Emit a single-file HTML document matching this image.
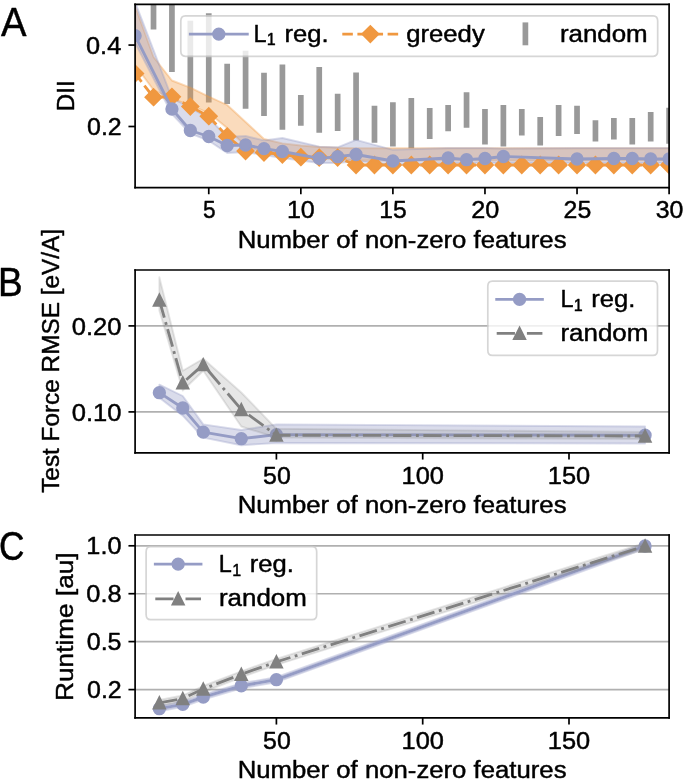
<!DOCTYPE html>
<html><head><meta charset="utf-8"><title>figure</title>
<style>
html,body{margin:0;padding:0;background:#fff;width:685px;height:783px;overflow:hidden}
svg{display:block;font-family:"Liberation Sans", sans-serif;will-change:transform}
</style></head><body>
<svg width="685" height="783" viewBox="0 0 685 783">
<defs>
<style type="text/css">*{stroke-linejoin: round; stroke-linecap: butt}</style>
</defs>
<g id="figure_1">
<g id="patch_1">
<path d="M 0 783 
L 685 783 
L 685 0 
L 0 0 
z
" style="fill: #ffffff"/>
</g>
<g id="axes_1">
<g id="line2d_1">
<path d="M 153.514 -1 
L 153.514 29.5 
" clip-path="url(#p956aea2b55)" style="fill: none; stroke: #999999; stroke-width: 5.7"/>
</g>
<g id="line2d_2">
<path d="M 171.928 -1 
L 171.928 72.1 
" clip-path="url(#p956aea2b55)" style="fill: none; stroke: #999999; stroke-width: 5.7"/>
</g>
<g id="line2d_3">
<path d="M 190.342 20.8 
L 190.342 101.2 
" clip-path="url(#p956aea2b55)" style="fill: none; stroke: #999999; stroke-width: 5.7"/>
</g>
<g id="line2d_4">
<path d="M 208.756 13.3 
L 208.756 102.4 
" clip-path="url(#p956aea2b55)" style="fill: none; stroke: #999999; stroke-width: 5.7"/>
</g>
<g id="line2d_5">
<path d="M 227.17 63.8 
L 227.17 104 
" clip-path="url(#p956aea2b55)" style="fill: none; stroke: #999999; stroke-width: 5.7"/>
</g>
<g id="line2d_6">
<path d="M 245.584 50.8 
L 245.584 108.7 
" clip-path="url(#p956aea2b55)" style="fill: none; stroke: #999999; stroke-width: 5.7"/>
</g>
<g id="line2d_7">
<path d="M 263.998 72.7 
L 263.998 116 
" clip-path="url(#p956aea2b55)" style="fill: none; stroke: #999999; stroke-width: 5.7"/>
</g>
<g id="line2d_8">
<path d="M 282.412 64.6 
L 282.412 129.8 
" clip-path="url(#p956aea2b55)" style="fill: none; stroke: #999999; stroke-width: 5.7"/>
</g>
<g id="line2d_9">
<path d="M 300.826 94.9 
L 300.826 125.7 
" clip-path="url(#p956aea2b55)" style="fill: none; stroke: #999999; stroke-width: 5.7"/>
</g>
<g id="line2d_10">
<path d="M 319.24 66.9 
L 319.24 132.7 
" clip-path="url(#p956aea2b55)" style="fill: none; stroke: #999999; stroke-width: 5.7"/>
</g>
<g id="line2d_11">
<path d="M 337.654 93.8 
L 337.654 131 
" clip-path="url(#p956aea2b55)" style="fill: none; stroke: #999999; stroke-width: 5.7"/>
</g>
<g id="line2d_12">
<path d="M 356.068 72.5 
L 356.068 140.4 
" clip-path="url(#p956aea2b55)" style="fill: none; stroke: #999999; stroke-width: 5.7"/>
</g>
<g id="line2d_13">
<path d="M 374.482 105.8 
L 374.482 142.7 
" clip-path="url(#p956aea2b55)" style="fill: none; stroke: #999999; stroke-width: 5.7"/>
</g>
<g id="line2d_14">
<path d="M 392.896 102.2 
L 392.896 146.5 
" clip-path="url(#p956aea2b55)" style="fill: none; stroke: #999999; stroke-width: 5.7"/>
</g>
<g id="line2d_15">
<path d="M 411.31 98 
L 411.31 148.2 
" clip-path="url(#p956aea2b55)" style="fill: none; stroke: #999999; stroke-width: 5.7"/>
</g>
<g id="line2d_16">
<path d="M 429.724 108 
L 429.724 139 
" clip-path="url(#p956aea2b55)" style="fill: none; stroke: #999999; stroke-width: 5.7"/>
</g>
<g id="line2d_17">
<path d="M 448.138 104.9 
L 448.138 131.3 
" clip-path="url(#p956aea2b55)" style="fill: none; stroke: #999999; stroke-width: 5.7"/>
</g>
<g id="line2d_18">
<path d="M 466.552 92.2 
L 466.552 127.7 
" clip-path="url(#p956aea2b55)" style="fill: none; stroke: #999999; stroke-width: 5.7"/>
</g>
<g id="line2d_19">
<path d="M 484.966 109.1 
L 484.966 144.6 
" clip-path="url(#p956aea2b55)" style="fill: none; stroke: #999999; stroke-width: 5.7"/>
</g>
<g id="line2d_20">
<path d="M 503.38 105 
L 503.38 146.6 
" clip-path="url(#p956aea2b55)" style="fill: none; stroke: #999999; stroke-width: 5.7"/>
</g>
<g id="line2d_21">
<path d="M 521.794 109.1 
L 521.794 135.5 
" clip-path="url(#p956aea2b55)" style="fill: none; stroke: #999999; stroke-width: 5.7"/>
</g>
<g id="line2d_22">
<path d="M 540.208 116.9 
L 540.208 145.5 
" clip-path="url(#p956aea2b55)" style="fill: none; stroke: #999999; stroke-width: 5.7"/>
</g>
<g id="line2d_23">
<path d="M 558.622 105 
L 558.622 136 
" clip-path="url(#p956aea2b55)" style="fill: none; stroke: #999999; stroke-width: 5.7"/>
</g>
<g id="line2d_24">
<path d="M 577.036 105.8 
L 577.036 134.1 
" clip-path="url(#p956aea2b55)" style="fill: none; stroke: #999999; stroke-width: 5.7"/>
</g>
<g id="line2d_25">
<path d="M 595.45 120.2 
L 595.45 141.6 
" clip-path="url(#p956aea2b55)" style="fill: none; stroke: #999999; stroke-width: 5.7"/>
</g>
<g id="line2d_26">
<path d="M 613.864 118 
L 613.864 139.6 
" clip-path="url(#p956aea2b55)" style="fill: none; stroke: #999999; stroke-width: 5.7"/>
</g>
<g id="line2d_27">
<path d="M 632.278 118 
L 632.278 144.4 
" clip-path="url(#p956aea2b55)" style="fill: none; stroke: #999999; stroke-width: 5.7"/>
</g>
<g id="line2d_28">
<path d="M 650.692 111.9 
L 650.692 141.6 
" clip-path="url(#p956aea2b55)" style="fill: none; stroke: #999999; stroke-width: 5.7"/>
</g>
<g id="line2d_29">
<path d="M 669.106 107.7 
L 669.106 143.8 
" clip-path="url(#p956aea2b55)" style="fill: none; stroke: #999999; stroke-width: 5.7"/>
</g>
<g id="matplotlib.axis_1"/>
<g id="matplotlib.axis_2"/>
<g id="FillBetweenPolyCollection_1">
<defs>
<path id="m043b8303b5" d="M 135.1 -718 
L 135.1 -777 
L 153.514 -726 
L 171.928 -702.5 
L 190.342 -695.3 
L 208.756 -686.4 
L 227.17 -678 
L 245.584 -661 
L 263.998 -644 
L 282.412 -639.6 
L 300.826 -637.5 
L 319.24 -636 
L 337.654 -635.2 
L 356.068 -634.7 
L 374.482 -634.7 
L 392.896 -634.7 
L 411.31 -634.7 
L 429.724 -634.7 
L 448.138 -634.7 
L 466.552 -634.7 
L 484.966 -634.7 
L 503.38 -634.7 
L 521.794 -634.7 
L 540.208 -634.7 
L 558.622 -634.7 
L 577.036 -634.7 
L 595.45 -634.7 
L 613.864 -634.7 
L 632.278 -634.7 
L 650.692 -634.7 
L 669.106 -634.7 
L 669.106 -622.5 
L 669.106 -622.5 
L 650.692 -622.5 
L 632.278 -622.5 
L 613.864 -622.5 
L 595.45 -622.5 
L 577.036 -622.5 
L 558.622 -622.5 
L 540.208 -622.5 
L 521.794 -622.5 
L 503.38 -622.5 
L 484.966 -622.5 
L 466.552 -622.5 
L 448.138 -622.5 
L 429.724 -622.5 
L 411.31 -622.5 
L 392.896 -622.5 
L 374.482 -622.5 
L 356.068 -622.5 
L 337.654 -624 
L 319.24 -624.5 
L 300.826 -626 
L 282.412 -628 
L 263.998 -631 
L 245.584 -637 
L 227.17 -655 
L 208.756 -670 
L 190.342 -678 
L 171.928 -684 
L 153.514 -693 
L 135.1 -718 
z
" style="stroke: #f09840; stroke-opacity: 0.35; stroke-width: 1.9"/>
</defs>
<g clip-path="url(#p956aea2b55)">
<use href="#m043b8303b5" x="0" y="783" style="fill: #f09840; fill-opacity: 0.35; stroke: #f09840; stroke-opacity: 0.35; stroke-width: 1.9"/>
</g>
</g>
<g id="FillBetweenPolyCollection_2">
<defs>
<path id="m9c1d3ab3d8" d="M 135.1 -740 
L 135.1 -781 
L 171.928 -685 
L 190.342 -675 
L 208.756 -665 
L 227.17 -646 
L 245.584 -647 
L 263.998 -642.6 
L 282.412 -645 
L 319.24 -636.4 
L 337.654 -635.7 
L 356.068 -643.1 
L 392.896 -633.2 
L 448.138 -635 
L 466.552 -635 
L 484.966 -635 
L 503.38 -634.4 
L 577.036 -635 
L 613.864 -635 
L 632.278 -635 
L 650.692 -635 
L 669.106 -635 
L 669.106 -620 
L 669.106 -620 
L 650.692 -620 
L 632.278 -620 
L 613.864 -620 
L 577.036 -620 
L 503.38 -620 
L 484.966 -620 
L 466.552 -620 
L 448.138 -620 
L 392.896 -618 
L 356.068 -622 
L 337.654 -620 
L 319.24 -620 
L 282.412 -625 
L 263.998 -628 
L 245.584 -631 
L 227.17 -630 
L 208.756 -642.3 
L 190.342 -649.4 
L 171.928 -669 
L 135.1 -740 
z
" style="stroke: #959cc5; stroke-opacity: 0.35; stroke-width: 1.9"/>
</defs>
<g clip-path="url(#p956aea2b55)">
<use href="#m9c1d3ab3d8" x="0" y="783" style="fill: #959cc5; fill-opacity: 0.35; stroke: #959cc5; stroke-opacity: 0.35; stroke-width: 1.9"/>
</g>
</g>
<g id="line2d_30">
<path d="M 135.1 73.6 
L 153.514 97.2 
L 171.928 96.8 
L 190.342 106.6 
L 208.756 116.2 
L 227.17 136.4 
L 245.584 151 
L 263.998 152.5 
L 282.412 154.5 
L 300.826 157.2 
L 319.24 157.6 
L 337.654 157.6 
L 356.068 165 
L 374.482 165 
L 392.896 165 
L 411.31 165 
L 429.724 165 
L 448.138 165 
L 466.552 165 
L 484.966 165 
L 503.38 165 
L 521.794 165 
L 540.208 165 
L 558.622 165 
L 577.036 165 
L 595.45 165 
L 613.864 165 
L 632.278 165 
L 650.692 165 
L 669.106 165 
" clip-path="url(#p956aea2b55)" style="fill: none; stroke-dasharray: 10.545,4.56; stroke-dashoffset: 0; stroke: #f09840; stroke-width: 2.85"/>
<defs>
<path id="m81dc2b258a" d="M -0 8.061017 
L 8.061017 0 
L 0 -8.061017 
L -8.061017 -0 
z
" style="stroke: #f09840; stroke-width: 1.9; stroke-linejoin: miter"/>
</defs>
<g clip-path="url(#p956aea2b55)">
<use href="#m81dc2b258a" x="135.1" y="73.6" style="fill: #f09840; stroke: #f09840; stroke-width: 1.9; stroke-linejoin: miter"/>
<use href="#m81dc2b258a" x="153.514" y="97.2" style="fill: #f09840; stroke: #f09840; stroke-width: 1.9; stroke-linejoin: miter"/>
<use href="#m81dc2b258a" x="171.928" y="96.8" style="fill: #f09840; stroke: #f09840; stroke-width: 1.9; stroke-linejoin: miter"/>
<use href="#m81dc2b258a" x="190.342" y="106.6" style="fill: #f09840; stroke: #f09840; stroke-width: 1.9; stroke-linejoin: miter"/>
<use href="#m81dc2b258a" x="208.756" y="116.2" style="fill: #f09840; stroke: #f09840; stroke-width: 1.9; stroke-linejoin: miter"/>
<use href="#m81dc2b258a" x="227.17" y="136.4" style="fill: #f09840; stroke: #f09840; stroke-width: 1.9; stroke-linejoin: miter"/>
<use href="#m81dc2b258a" x="245.584" y="151" style="fill: #f09840; stroke: #f09840; stroke-width: 1.9; stroke-linejoin: miter"/>
<use href="#m81dc2b258a" x="263.998" y="152.5" style="fill: #f09840; stroke: #f09840; stroke-width: 1.9; stroke-linejoin: miter"/>
<use href="#m81dc2b258a" x="282.412" y="154.5" style="fill: #f09840; stroke: #f09840; stroke-width: 1.9; stroke-linejoin: miter"/>
<use href="#m81dc2b258a" x="300.826" y="157.2" style="fill: #f09840; stroke: #f09840; stroke-width: 1.9; stroke-linejoin: miter"/>
<use href="#m81dc2b258a" x="319.24" y="157.6" style="fill: #f09840; stroke: #f09840; stroke-width: 1.9; stroke-linejoin: miter"/>
<use href="#m81dc2b258a" x="337.654" y="157.6" style="fill: #f09840; stroke: #f09840; stroke-width: 1.9; stroke-linejoin: miter"/>
<use href="#m81dc2b258a" x="356.068" y="165" style="fill: #f09840; stroke: #f09840; stroke-width: 1.9; stroke-linejoin: miter"/>
<use href="#m81dc2b258a" x="374.482" y="165" style="fill: #f09840; stroke: #f09840; stroke-width: 1.9; stroke-linejoin: miter"/>
<use href="#m81dc2b258a" x="392.896" y="165" style="fill: #f09840; stroke: #f09840; stroke-width: 1.9; stroke-linejoin: miter"/>
<use href="#m81dc2b258a" x="411.31" y="165" style="fill: #f09840; stroke: #f09840; stroke-width: 1.9; stroke-linejoin: miter"/>
<use href="#m81dc2b258a" x="429.724" y="165" style="fill: #f09840; stroke: #f09840; stroke-width: 1.9; stroke-linejoin: miter"/>
<use href="#m81dc2b258a" x="448.138" y="165" style="fill: #f09840; stroke: #f09840; stroke-width: 1.9; stroke-linejoin: miter"/>
<use href="#m81dc2b258a" x="466.552" y="165" style="fill: #f09840; stroke: #f09840; stroke-width: 1.9; stroke-linejoin: miter"/>
<use href="#m81dc2b258a" x="484.966" y="165" style="fill: #f09840; stroke: #f09840; stroke-width: 1.9; stroke-linejoin: miter"/>
<use href="#m81dc2b258a" x="503.38" y="165" style="fill: #f09840; stroke: #f09840; stroke-width: 1.9; stroke-linejoin: miter"/>
<use href="#m81dc2b258a" x="521.794" y="165" style="fill: #f09840; stroke: #f09840; stroke-width: 1.9; stroke-linejoin: miter"/>
<use href="#m81dc2b258a" x="540.208" y="165" style="fill: #f09840; stroke: #f09840; stroke-width: 1.9; stroke-linejoin: miter"/>
<use href="#m81dc2b258a" x="558.622" y="165" style="fill: #f09840; stroke: #f09840; stroke-width: 1.9; stroke-linejoin: miter"/>
<use href="#m81dc2b258a" x="577.036" y="165" style="fill: #f09840; stroke: #f09840; stroke-width: 1.9; stroke-linejoin: miter"/>
<use href="#m81dc2b258a" x="595.45" y="165" style="fill: #f09840; stroke: #f09840; stroke-width: 1.9; stroke-linejoin: miter"/>
<use href="#m81dc2b258a" x="613.864" y="165" style="fill: #f09840; stroke: #f09840; stroke-width: 1.9; stroke-linejoin: miter"/>
<use href="#m81dc2b258a" x="632.278" y="165" style="fill: #f09840; stroke: #f09840; stroke-width: 1.9; stroke-linejoin: miter"/>
<use href="#m81dc2b258a" x="650.692" y="165" style="fill: #f09840; stroke: #f09840; stroke-width: 1.9; stroke-linejoin: miter"/>
<use href="#m81dc2b258a" x="669.106" y="165" style="fill: #f09840; stroke: #f09840; stroke-width: 1.9; stroke-linejoin: miter"/>
</g>
</g>
<g id="line2d_31">
<path d="M 135.1 35.7 
L 171.928 109 
L 190.342 130.5 
L 208.756 136.5 
L 227.17 145.5 
L 245.584 145 
L 263.998 148.6 
L 282.412 151.5 
L 319.24 158.4 
L 337.654 156.7 
L 356.068 154.5 
L 392.896 161 
L 448.138 158 
L 466.552 159.7 
L 484.966 158.5 
L 503.38 156.5 
L 577.036 159 
L 613.864 158.5 
L 632.278 158.5 
L 650.692 159 
L 669.106 159 
" clip-path="url(#p956aea2b55)" style="fill: none; stroke: #959cc5; stroke-width: 2.85; stroke-linecap: square"/>
<defs>
<path id="mdd2bf731ce" d="M 0 5.7 
C 1.511658 5.7 2.961605 5.099412 4.030509 4.030509 
C 5.099412 2.961605 5.7 1.511658 5.7 0 
C 5.7 -1.511658 5.099412 -2.961605 4.030509 -4.030509 
C 2.961605 -5.099412 1.511658 -5.7 0 -5.7 
C -1.511658 -5.7 -2.961605 -5.099412 -4.030509 -4.030509 
C -5.099412 -2.961605 -5.7 -1.511658 -5.7 0 
C -5.7 1.511658 -5.099412 2.961605 -4.030509 4.030509 
C -2.961605 5.099412 -1.511658 5.7 0 5.7 
z
" style="stroke: #959cc5; stroke-width: 1.9"/>
</defs>
<g clip-path="url(#p956aea2b55)">
<use href="#mdd2bf731ce" x="135.1" y="35.7" style="fill: #959cc5; stroke: #959cc5; stroke-width: 1.9"/>
<use href="#mdd2bf731ce" x="171.928" y="109" style="fill: #959cc5; stroke: #959cc5; stroke-width: 1.9"/>
<use href="#mdd2bf731ce" x="190.342" y="130.5" style="fill: #959cc5; stroke: #959cc5; stroke-width: 1.9"/>
<use href="#mdd2bf731ce" x="208.756" y="136.5" style="fill: #959cc5; stroke: #959cc5; stroke-width: 1.9"/>
<use href="#mdd2bf731ce" x="227.17" y="145.5" style="fill: #959cc5; stroke: #959cc5; stroke-width: 1.9"/>
<use href="#mdd2bf731ce" x="245.584" y="145" style="fill: #959cc5; stroke: #959cc5; stroke-width: 1.9"/>
<use href="#mdd2bf731ce" x="263.998" y="148.6" style="fill: #959cc5; stroke: #959cc5; stroke-width: 1.9"/>
<use href="#mdd2bf731ce" x="282.412" y="151.5" style="fill: #959cc5; stroke: #959cc5; stroke-width: 1.9"/>
<use href="#mdd2bf731ce" x="319.24" y="158.4" style="fill: #959cc5; stroke: #959cc5; stroke-width: 1.9"/>
<use href="#mdd2bf731ce" x="337.654" y="156.7" style="fill: #959cc5; stroke: #959cc5; stroke-width: 1.9"/>
<use href="#mdd2bf731ce" x="356.068" y="154.5" style="fill: #959cc5; stroke: #959cc5; stroke-width: 1.9"/>
<use href="#mdd2bf731ce" x="392.896" y="161" style="fill: #959cc5; stroke: #959cc5; stroke-width: 1.9"/>
<use href="#mdd2bf731ce" x="448.138" y="158" style="fill: #959cc5; stroke: #959cc5; stroke-width: 1.9"/>
<use href="#mdd2bf731ce" x="466.552" y="159.7" style="fill: #959cc5; stroke: #959cc5; stroke-width: 1.9"/>
<use href="#mdd2bf731ce" x="484.966" y="158.5" style="fill: #959cc5; stroke: #959cc5; stroke-width: 1.9"/>
<use href="#mdd2bf731ce" x="503.38" y="156.5" style="fill: #959cc5; stroke: #959cc5; stroke-width: 1.9"/>
<use href="#mdd2bf731ce" x="577.036" y="159" style="fill: #959cc5; stroke: #959cc5; stroke-width: 1.9"/>
<use href="#mdd2bf731ce" x="613.864" y="158.5" style="fill: #959cc5; stroke: #959cc5; stroke-width: 1.9"/>
<use href="#mdd2bf731ce" x="632.278" y="158.5" style="fill: #959cc5; stroke: #959cc5; stroke-width: 1.9"/>
<use href="#mdd2bf731ce" x="650.692" y="159" style="fill: #959cc5; stroke: #959cc5; stroke-width: 1.9"/>
<use href="#mdd2bf731ce" x="669.106" y="159" style="fill: #959cc5; stroke: #959cc5; stroke-width: 1.9"/>
</g>
</g>
<g id="patch_2">
<path d="M 135.1 187.6 
L 135.1 4.3 
" style="fill: none; stroke: #000000; stroke-width: 1.7; stroke-linejoin: miter; stroke-linecap: square"/>
</g>
<g id="patch_3">
<path d="M 669.1 187.6 
L 669.1 4.3 
" style="fill: none; stroke: #000000; stroke-width: 1.7; stroke-linejoin: miter; stroke-linecap: square"/>
</g>
<g id="patch_4">
<path d="M 135.1 187.6 
L 669.1 187.6 
" style="fill: none; stroke: #000000; stroke-width: 1.7; stroke-linejoin: miter; stroke-linecap: square"/>
</g>
<g id="patch_5">
<path d="M 135.1 4.3 
L 669.1 4.3 
" style="fill: none; stroke: #000000; stroke-width: 1.7; stroke-linejoin: miter; stroke-linecap: square"/>
</g>
</g>
<g id="axes_2">
<g id="line2d_32">
<path d="M 135.1 325.9 
L 669.1 325.9 
" clip-path="url(#p377abd28a8)" style="fill: none; stroke: #b0b0b0; stroke-width: 1.65; stroke-linecap: square"/>
</g>
<g id="line2d_33">
<path d="M 135.1 411.9 
L 669.1 411.9 
" clip-path="url(#p377abd28a8)" style="fill: none; stroke: #b0b0b0; stroke-width: 1.65; stroke-linecap: square"/>
</g>
<g id="matplotlib.axis_3"/>
<g id="matplotlib.axis_4"/>
<g id="FillBetweenPolyCollection_3">
<defs>
<path id="m3558282ac8" d="M 159.36 -385.3 
L 159.36 -398.4 
L 182.768 -387 
L 203.25 -358.6 
L 241.288 -353 
L 276.4 -358.6 
L 645.076 -356.5 
L 645.076 -339.5 
L 645.076 -339.5 
L 276.4 -340 
L 241.288 -337.8 
L 203.25 -345.4 
L 182.768 -367.3 
L 159.36 -385.3 
z
" style="stroke: #959cc5; stroke-opacity: 0.35; stroke-width: 1.9"/>
</defs>
<g clip-path="url(#p377abd28a8)">
<use href="#m3558282ac8" x="0" y="783" style="fill: #959cc5; fill-opacity: 0.35; stroke: #959cc5; stroke-opacity: 0.35; stroke-width: 1.9"/>
</g>
</g>
<g id="line2d_34">
<path d="M 159.36 392.7 
L 182.768 408 
L 203.25 432.1 
L 241.288 438.7 
L 276.4 434.6 
L 645.076 435.2 
" clip-path="url(#p377abd28a8)" style="fill: none; stroke: #959cc5; stroke-width: 2.85; stroke-linecap: square"/>
<g clip-path="url(#p377abd28a8)">
<use href="#mdd2bf731ce" x="159.36" y="392.7" style="fill: #959cc5; stroke: #959cc5; stroke-width: 1.9"/>
<use href="#mdd2bf731ce" x="182.768" y="408" style="fill: #959cc5; stroke: #959cc5; stroke-width: 1.9"/>
<use href="#mdd2bf731ce" x="203.25" y="432.1" style="fill: #959cc5; stroke: #959cc5; stroke-width: 1.9"/>
<use href="#mdd2bf731ce" x="241.288" y="438.7" style="fill: #959cc5; stroke: #959cc5; stroke-width: 1.9"/>
<use href="#mdd2bf731ce" x="276.4" y="434.6" style="fill: #959cc5; stroke: #959cc5; stroke-width: 1.9"/>
<use href="#mdd2bf731ce" x="645.076" y="435.2" style="fill: #959cc5; stroke: #959cc5; stroke-width: 1.9"/>
</g>
</g>
<g id="FillBetweenPolyCollection_4">
<defs>
<path id="m1ac68b7e30" d="M 159.36 -472.5 
L 159.36 -505.7 
L 182.768 -412.2 
L 203.25 -424.2 
L 241.288 -390.5 
L 276.4 -354.2 
L 645.076 -351 
L 645.076 -344 
L 645.076 -344 
L 276.4 -345.4 
L 241.288 -356.5 
L 203.25 -412.2 
L 182.768 -392.5 
L 159.36 -472.5 
z
" style="stroke: #808080; stroke-opacity: 0.2; stroke-width: 1.9"/>
</defs>
<g clip-path="url(#p377abd28a8)">
<use href="#m1ac68b7e30" x="0" y="783" style="fill: #808080; fill-opacity: 0.2; stroke: #808080; stroke-opacity: 0.2; stroke-width: 1.9"/>
</g>
</g>
<g id="line2d_35">
<path d="M 159.36 300.1 
L 182.768 382.8 
L 203.25 364.7 
L 241.288 409.5 
L 276.4 435.2 
L 645.076 436 
" clip-path="url(#p377abd28a8)" style="fill: none; stroke-dasharray: 18.24,4.56,2.85,4.56; stroke-dashoffset: 0; stroke: #808080; stroke-width: 2.85"/>
<defs>
<path id="m35cb665b18" d="M 0 -5.7 
L -5.7 5.7 
L 5.7 5.7 
z
" style="stroke: #808080; stroke-width: 1.9; stroke-linejoin: miter"/>
</defs>
<g clip-path="url(#p377abd28a8)">
<use href="#m35cb665b18" x="159.36" y="300.1" style="fill: #808080; stroke: #808080; stroke-width: 1.9; stroke-linejoin: miter"/>
<use href="#m35cb665b18" x="182.768" y="382.8" style="fill: #808080; stroke: #808080; stroke-width: 1.9; stroke-linejoin: miter"/>
<use href="#m35cb665b18" x="203.25" y="364.7" style="fill: #808080; stroke: #808080; stroke-width: 1.9; stroke-linejoin: miter"/>
<use href="#m35cb665b18" x="241.288" y="409.5" style="fill: #808080; stroke: #808080; stroke-width: 1.9; stroke-linejoin: miter"/>
<use href="#m35cb665b18" x="276.4" y="435.2" style="fill: #808080; stroke: #808080; stroke-width: 1.9; stroke-linejoin: miter"/>
<use href="#m35cb665b18" x="645.076" y="436" style="fill: #808080; stroke: #808080; stroke-width: 1.9; stroke-linejoin: miter"/>
</g>
</g>
<g id="patch_6">
<path d="M 135.1 452.9 
L 135.1 270 
" style="fill: none; stroke: #000000; stroke-width: 1.7; stroke-linejoin: miter; stroke-linecap: square"/>
</g>
<g id="patch_7">
<path d="M 669.1 452.9 
L 669.1 270 
" style="fill: none; stroke: #000000; stroke-width: 1.7; stroke-linejoin: miter; stroke-linecap: square"/>
</g>
<g id="patch_8">
<path d="M 135.1 452.9 
L 669.1 452.9 
" style="fill: none; stroke: #000000; stroke-width: 1.7; stroke-linejoin: miter; stroke-linecap: square"/>
</g>
<g id="patch_9">
<path d="M 135.1 270 
L 669.1 270 
" style="fill: none; stroke: #000000; stroke-width: 1.7; stroke-linejoin: miter; stroke-linecap: square"/>
</g>
</g>
<g id="axes_3">
<g id="line2d_36">
<path d="M 135.1 545.8 
L 669.1 545.8 
" clip-path="url(#p119d62ab1e)" style="fill: none; stroke: #b0b0b0; stroke-width: 1.65; stroke-linecap: square"/>
</g>
<g id="line2d_37">
<path d="M 135.1 593.7 
L 669.1 593.7 
" clip-path="url(#p119d62ab1e)" style="fill: none; stroke: #b0b0b0; stroke-width: 1.65; stroke-linecap: square"/>
</g>
<g id="line2d_38">
<path d="M 135.1 641.6 
L 669.1 641.6 
" clip-path="url(#p119d62ab1e)" style="fill: none; stroke: #b0b0b0; stroke-width: 1.65; stroke-linecap: square"/>
</g>
<g id="line2d_39">
<path d="M 135.1 689.6 
L 669.1 689.6 
" clip-path="url(#p119d62ab1e)" style="fill: none; stroke: #b0b0b0; stroke-width: 1.65; stroke-linecap: square"/>
</g>
<g id="matplotlib.axis_5"/>
<g id="matplotlib.axis_6"/>
<g id="FillBetweenPolyCollection_5">
<defs>
<path id="mb6a63f1b75" d="M 159.36 -71.8 
L 159.36 -76.8 
L 182.768 -81.2 
L 203.25 -88.4 
L 241.288 -99.7 
L 276.4 -105.8 
L 645.076 -239.5 
L 645.076 -234.5 
L 645.076 -234.5 
L 276.4 -100.8 
L 241.288 -94.7 
L 203.25 -83.4 
L 182.768 -76.2 
L 159.36 -71.8 
z
" style="stroke: #959cc5; stroke-opacity: 0.35; stroke-width: 1.9"/>
</defs>
<g clip-path="url(#p119d62ab1e)">
<use href="#mb6a63f1b75" x="0" y="783" style="fill: #959cc5; fill-opacity: 0.35; stroke: #959cc5; stroke-opacity: 0.35; stroke-width: 1.9"/>
</g>
</g>
<g id="line2d_40">
<path d="M 159.36 708.7 
L 182.768 704.3 
L 203.25 697.1 
L 241.288 685.8 
L 276.4 679.7 
L 645.076 546 
" clip-path="url(#p119d62ab1e)" style="fill: none; stroke: #959cc5; stroke-width: 2.85; stroke-linecap: square"/>
<g clip-path="url(#p119d62ab1e)">
<use href="#mdd2bf731ce" x="159.36" y="708.7" style="fill: #959cc5; stroke: #959cc5; stroke-width: 1.9"/>
<use href="#mdd2bf731ce" x="182.768" y="704.3" style="fill: #959cc5; stroke: #959cc5; stroke-width: 1.9"/>
<use href="#mdd2bf731ce" x="203.25" y="697.1" style="fill: #959cc5; stroke: #959cc5; stroke-width: 1.9"/>
<use href="#mdd2bf731ce" x="241.288" y="685.8" style="fill: #959cc5; stroke: #959cc5; stroke-width: 1.9"/>
<use href="#mdd2bf731ce" x="276.4" y="679.7" style="fill: #959cc5; stroke: #959cc5; stroke-width: 1.9"/>
<use href="#mdd2bf731ce" x="645.076" y="546" style="fill: #959cc5; stroke: #959cc5; stroke-width: 1.9"/>
</g>
</g>
<g id="FillBetweenPolyCollection_6">
<defs>
<path id="m1c9525006b" d="M 159.36 -77.1 
L 159.36 -83.1 
L 182.768 -87.5 
L 203.25 -97 
L 241.288 -111.7 
L 276.4 -124.1 
L 645.076 -240 
L 645.076 -234 
L 645.076 -234 
L 276.4 -118.1 
L 241.288 -105.7 
L 203.25 -91 
L 182.768 -81.5 
L 159.36 -77.1 
z
" style="stroke: #808080; stroke-opacity: 0.2; stroke-width: 1.9"/>
</defs>
<g clip-path="url(#p119d62ab1e)">
<use href="#m1c9525006b" x="0" y="783" style="fill: #808080; fill-opacity: 0.2; stroke: #808080; stroke-opacity: 0.2; stroke-width: 1.9"/>
</g>
</g>
<g id="line2d_41">
<path d="M 159.36 702.9 
L 182.768 698.5 
L 203.25 689 
L 241.288 674.3 
L 276.4 661.9 
L 645.076 546 
" clip-path="url(#p119d62ab1e)" style="fill: none; stroke-dasharray: 18.24,4.56,2.85,4.56; stroke-dashoffset: 0; stroke: #808080; stroke-width: 2.85"/>
<g clip-path="url(#p119d62ab1e)">
<use href="#m35cb665b18" x="159.36" y="702.9" style="fill: #808080; stroke: #808080; stroke-width: 1.9; stroke-linejoin: miter"/>
<use href="#m35cb665b18" x="182.768" y="698.5" style="fill: #808080; stroke: #808080; stroke-width: 1.9; stroke-linejoin: miter"/>
<use href="#m35cb665b18" x="203.25" y="689" style="fill: #808080; stroke: #808080; stroke-width: 1.9; stroke-linejoin: miter"/>
<use href="#m35cb665b18" x="241.288" y="674.3" style="fill: #808080; stroke: #808080; stroke-width: 1.9; stroke-linejoin: miter"/>
<use href="#m35cb665b18" x="276.4" y="661.9" style="fill: #808080; stroke: #808080; stroke-width: 1.9; stroke-linejoin: miter"/>
<use href="#m35cb665b18" x="645.076" y="546" style="fill: #808080; stroke: #808080; stroke-width: 1.9; stroke-linejoin: miter"/>
</g>
</g>
<g id="patch_10">
<path d="M 135.1 717.9 
L 135.1 535 
" style="fill: none; stroke: #000000; stroke-width: 1.7; stroke-linejoin: miter; stroke-linecap: square"/>
</g>
<g id="patch_11">
<path d="M 669.1 717.9 
L 669.1 535 
" style="fill: none; stroke: #000000; stroke-width: 1.7; stroke-linejoin: miter; stroke-linecap: square"/>
</g>
<g id="patch_12">
<path d="M 135.1 717.9 
L 669.1 717.9 
" style="fill: none; stroke: #000000; stroke-width: 1.7; stroke-linejoin: miter; stroke-linecap: square"/>
</g>
<g id="patch_13">
<path d="M 135.1 535 
L 669.1 535 
" style="fill: none; stroke: #000000; stroke-width: 1.7; stroke-linejoin: miter; stroke-linecap: square"/>
</g>
</g>
<g id="line2d_42">
<path d="M 208.756 187.6 
L 208.756 194.25 
" style="fill: none; stroke: #000000; stroke-width: 1.7"/>
</g>
<g id="line2d_43">
<path d="M 300.826 187.6 
L 300.826 194.25 
" style="fill: none; stroke: #000000; stroke-width: 1.7"/>
</g>
<g id="line2d_44">
<path d="M 392.896 187.6 
L 392.896 194.25 
" style="fill: none; stroke: #000000; stroke-width: 1.7"/>
</g>
<g id="line2d_45">
<path d="M 484.966 187.6 
L 484.966 194.25 
" style="fill: none; stroke: #000000; stroke-width: 1.7"/>
</g>
<g id="line2d_46">
<path d="M 577.036 187.6 
L 577.036 194.25 
" style="fill: none; stroke: #000000; stroke-width: 1.7"/>
</g>
<g id="line2d_47">
<path d="M 669.106 187.6 
L 669.106 194.25 
" style="fill: none; stroke: #000000; stroke-width: 1.7"/>
</g>
<g id="line2d_48">
<path d="M 135.1 45.07 
L 128.45 45.07 
" style="fill: none; stroke: #000000; stroke-width: 1.7"/>
</g>
<g id="line2d_49">
<path d="M 135.1 126.5 
L 128.45 126.5 
" style="fill: none; stroke: #000000; stroke-width: 1.7"/>
</g>
<g id="line2d_50">
<path d="M 276.4 452.9 
L 276.4 459.55 
" style="fill: none; stroke: #000000; stroke-width: 1.7"/>
</g>
<g id="line2d_51">
<path d="M 422.7 452.9 
L 422.7 459.55 
" style="fill: none; stroke: #000000; stroke-width: 1.7"/>
</g>
<g id="line2d_52">
<path d="M 569 452.9 
L 569 459.55 
" style="fill: none; stroke: #000000; stroke-width: 1.7"/>
</g>
<g id="line2d_53">
<path d="M 135.1 325.9 
L 128.45 325.9 
" style="fill: none; stroke: #000000; stroke-width: 1.7"/>
</g>
<g id="line2d_54">
<path d="M 135.1 411.9 
L 128.45 411.9 
" style="fill: none; stroke: #000000; stroke-width: 1.7"/>
</g>
<g id="line2d_55">
<path d="M 276.4 717.9 
L 276.4 724.55 
" style="fill: none; stroke: #000000; stroke-width: 1.7"/>
</g>
<g id="line2d_56">
<path d="M 422.7 717.9 
L 422.7 724.55 
" style="fill: none; stroke: #000000; stroke-width: 1.7"/>
</g>
<g id="line2d_57">
<path d="M 569 717.9 
L 569 724.55 
" style="fill: none; stroke: #000000; stroke-width: 1.7"/>
</g>
<g id="line2d_58">
<path d="M 135.1 545.8 
L 128.45 545.8 
" style="fill: none; stroke: #000000; stroke-width: 1.7"/>
</g>
<g id="line2d_59">
<path d="M 135.1 593.7 
L 128.45 593.7 
" style="fill: none; stroke: #000000; stroke-width: 1.7"/>
</g>
<g id="line2d_60">
<path d="M 135.1 641.6 
L 128.45 641.6 
" style="fill: none; stroke: #000000; stroke-width: 1.7"/>
</g>
<g id="line2d_61">
<path d="M 135.1 689.6 
L 128.45 689.6 
" style="fill: none; stroke: #000000; stroke-width: 1.7"/>
</g>
<g id="patch_14">
<path d="M 185.360045 56.3 
L 653.139955 56.3 
Q 657.7 56.3 657.7 51.087569 
L 657.7 21.012431 
Q 657.7 15.8 653.139955 15.8 
L 185.360045 15.8 
Q 180.8 15.8 180.8 21.012431 
L 180.8 51.087569 
Q 180.8 56.3 185.360045 56.3 
z
" style="fill: #ffffff; opacity: 0.8; stroke: #cccccc; stroke-width: 1.7; stroke-linejoin: miter"/>
</g>
<g id="patch_15">
<path d="M 492.360045 355.4 
L 652.939955 355.4 
Q 657.5 355.4 657.5 350.187569 
L 657.5 286.312431 
Q 657.5 281.1 652.939955 281.1 
L 492.360045 281.1 
Q 487.8 281.1 487.8 286.312431 
L 487.8 350.187569 
Q 487.8 355.4 492.360045 355.4 
z
" style="fill: #ffffff; opacity: 0.8; stroke: #cccccc; stroke-width: 1.7; stroke-linejoin: miter"/>
</g>
<g id="patch_16">
<path d="M 150.660045 619.6 
L 312.139955 619.6 
Q 316.7 619.6 316.7 614.387569 
L 316.7 551.912431 
Q 316.7 546.7 312.139955 546.7 
L 150.660045 546.7 
Q 146.1 546.7 146.1 551.912431 
L 146.1 614.387569 
Q 146.1 619.6 150.660045 619.6 
z
" style="fill: #ffffff; opacity: 0.8; stroke: #cccccc; stroke-width: 1.7; stroke-linejoin: miter"/>
</g>
<g id="line2d_62">
<path d="M 190.3 34.1 
L 247.3 34.1 
" style="fill: none; stroke: #959cc5; stroke-width: 2.85; stroke-linecap: square"/>
</g>
<g id="line2d_63">
<path d="M 342.3 34.1 
L 398.4 34.1 
" style="fill: none; stroke-dasharray: 10.545,4.56; stroke-dashoffset: 0; stroke: #f09840; stroke-width: 2.85"/>
</g>
<g id="line2d_64">
<path d="M 525.4 22.4 
L 525.4 45.3 
" style="fill: none; stroke: #999999; stroke-width: 5.7"/>
</g>
<g id="line2d_65">
<path d="M 496.7 299.4 
L 542.4 299.4 
" style="fill: none; stroke: #959cc5; stroke-width: 2.85; stroke-linecap: square"/>
</g>
<g id="line2d_66">
<path d="M 496.7 333.3 
L 542.4 333.3 
" style="fill: none; stroke-dasharray: 18.24,4.56,2.85,4.56; stroke-dashoffset: 0; stroke: #808080; stroke-width: 2.85"/>
</g>
<g id="line2d_67">
<path d="M 155.3 564.1 
L 201 564.1 
" style="fill: none; stroke: #959cc5; stroke-width: 2.85; stroke-linecap: square"/>
</g>
<g id="line2d_68">
<path d="M 155.3 598.8 
L 201 598.8 
" style="fill: none; stroke-dasharray: 18.24,4.56,2.85,4.56; stroke-dashoffset: 0; stroke: #808080; stroke-width: 2.85"/>
</g>
<g id="line2d_69">
<g>
<use href="#mdd2bf731ce" x="218.8" y="34.1" style="fill: #959cc5; stroke: #959cc5; stroke-width: 1.9"/>
</g>
</g>
<g id="line2d_70">
<g>
<use href="#m81dc2b258a" x="370.35" y="34.1" style="fill: #f09840; stroke: #f09840; stroke-width: 1.9; stroke-linejoin: miter"/>
</g>
</g>
<g id="line2d_71">
<g>
<use href="#mdd2bf731ce" x="519.55" y="299.4" style="fill: #959cc5; stroke: #959cc5; stroke-width: 1.9"/>
</g>
</g>
<g id="line2d_72">
<g>
<use href="#m35cb665b18" x="519.55" y="333.3" style="fill: #808080; stroke: #808080; stroke-width: 1.9; stroke-linejoin: miter"/>
</g>
</g>
<g id="line2d_73">
<g>
<use href="#mdd2bf731ce" x="178.15" y="564.1" style="fill: #959cc5; stroke: #959cc5; stroke-width: 1.9"/>
</g>
</g>
<g id="line2d_74">
<g>
<use href="#m35cb665b18" x="178.15" y="598.8" style="fill: #808080; stroke: #808080; stroke-width: 1.9; stroke-linejoin: miter"/>
</g>
</g>
</g>
<defs>
<clipPath id="p956aea2b55">
<rect x="135.1" y="4.3" width="534" height="183.3"/>
</clipPath>
<clipPath id="p377abd28a8">
<rect x="135.1" y="270" width="534" height="182.9"/>
</clipPath>
<clipPath id="p119d62ab1e">
<rect x="135.1" y="535" width="534" height="182.9"/>
</clipPath>
</defs>
<g font-family="Liberation Sans, sans-serif" fill="#000" stroke="#000" stroke-width="0.45">
<text transform="translate(0.92 35.70) scale(0.9605 1)" font-size="39.86">A</text>
<text transform="translate(-1.98 295.60) scale(0.9264 1)" font-size="39.86">B</text>
<text transform="translate(-0.89 559.90) scale(0.8851 1)" font-size="39.86">C</text>
<text transform="translate(86.03 53.73) scale(1.0590 1)" font-size="23.92">0.4</text>
<text transform="translate(87.05 135.16) scale(1.0437 1)" font-size="23.92">0.2</text>
<text transform="translate(202.97 218.20) scale(0.9483 1)" font-size="23.92">5</text>
<text transform="translate(286.92 218.20) scale(1.0482 1)" font-size="23.92">10</text>
<text transform="translate(379.26 218.20) scale(1.0311 1)" font-size="23.92">15</text>
<text transform="translate(471.28 218.20) scale(1.0557 1)" font-size="23.92">20</text>
<text transform="translate(563.61 218.20) scale(1.0391 1)" font-size="23.92">25</text>
<text transform="translate(655.78 218.20) scale(1.0406 1)" font-size="23.92">30</text>
<text transform="translate(237.68 247.80) scale(1.0762 1)" font-size="23.92">Number of non-zero features</text>
<text transform="translate(73.80 95.90) rotate(-90) scale(1.0051 1) translate(-15.16 0)" font-size="23.92">DII</text>
<text transform="translate(253.58 41.50) scale(0.9807 1)" font-size="23.92">L</text>
<text transform="translate(266.67 44.90) scale(0.9599 1)" font-size="16.74">1</text>
<text transform="translate(284.60 41.50) scale(1.0704 1)" font-size="23.92">reg.</text>
<text transform="translate(406.22 41.50) scale(1.0741 1)" font-size="23.92">greedy</text>
<text transform="translate(559.88 41.50) scale(1.0833 1)" font-size="23.92">random</text>
<text transform="translate(71.75 334.56) scale(1.0687 1)" font-size="23.92">0.20</text>
<text transform="translate(71.75 420.56) scale(1.0687 1)" font-size="23.92">0.10</text>
<text transform="translate(263.03 483.50) scale(1.0416 1)" font-size="23.92">50</text>
<text transform="translate(401.51 483.50) scale(1.0634 1)" font-size="23.92">100</text>
<text transform="translate(547.81 483.50) scale(1.0634 1)" font-size="23.92">150</text>
<text transform="translate(237.68 513.10) scale(1.0762 1)" font-size="23.92">Number of non-zero features</text>
<text transform="translate(58.60 361.50) rotate(-90) scale(1.0178 1) translate(-129.00 0)" font-size="23.92">Test Force RMSE [eV/A]</text>
<text transform="translate(560.38 307.10) scale(0.9807 1)" font-size="23.92">L</text>
<text transform="translate(573.67 310.50) scale(0.9599 1)" font-size="16.74">1</text>
<text transform="translate(591.30 307.10) scale(1.0704 1)" font-size="23.92">reg.</text>
<text transform="translate(560.48 341.40) scale(1.0833 1)" font-size="23.92">random</text>
<text transform="translate(86.33 554.46) scale(1.0575 1)" font-size="23.92">1.0</text>
<text transform="translate(86.31 602.36) scale(1.0615 1)" font-size="23.92">0.8</text>
<text transform="translate(86.76 650.26) scale(1.0464 1)" font-size="23.92">0.5</text>
<text transform="translate(87.05 698.26) scale(1.0437 1)" font-size="23.92">0.2</text>
<text transform="translate(263.03 748.60) scale(1.0416 1)" font-size="23.92">50</text>
<text transform="translate(401.51 748.60) scale(1.0634 1)" font-size="23.92">100</text>
<text transform="translate(547.81 748.60) scale(1.0634 1)" font-size="23.92">150</text>
<text transform="translate(237.68 778.20) scale(1.0762 1)" font-size="23.92">Number of non-zero features</text>
<text transform="translate(72.80 626.50) rotate(-90) scale(1.0952 1) translate(-67.93 0)" font-size="23.92">Runtime [au]</text>
<text transform="translate(218.68 572.10) scale(0.9807 1)" font-size="23.92">L</text>
<text transform="translate(232.37 575.50) scale(0.9599 1)" font-size="16.74">1</text>
<text transform="translate(249.80 572.10) scale(1.0704 1)" font-size="23.92">reg.</text>
<text transform="translate(218.98 606.40) scale(1.0833 1)" font-size="23.92">random</text>
</g>
</svg>

</body></html>
